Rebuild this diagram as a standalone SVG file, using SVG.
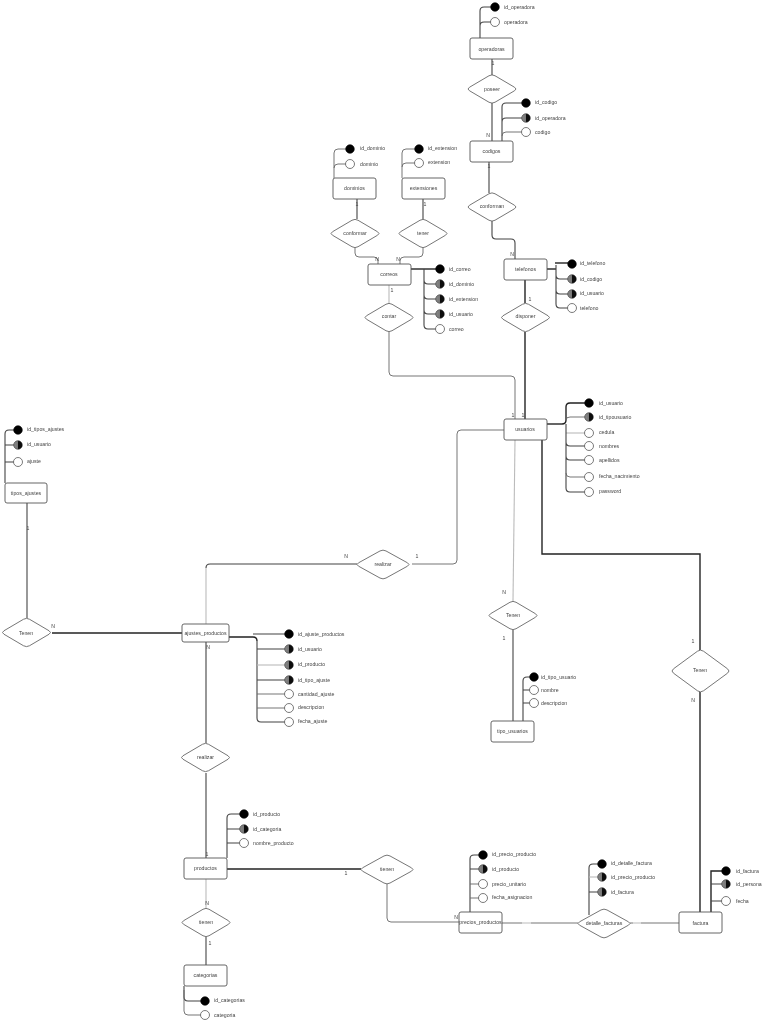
<svg xmlns="http://www.w3.org/2000/svg" width="768" height="1024" viewBox="0 0 768 1024">
<style>
text{font-family:"Liberation Sans",Arial,sans-serif;font-size:5.2px;fill:#444}
.m{text-anchor:middle}
.e{fill:#fff;stroke:#555;stroke-width:.9}
.d{fill:#fff;stroke:#666;stroke-width:.9}
.k{fill:#000;stroke:#000;stroke-width:.6}
.f{fill:url(#fk);stroke:#333;stroke-width:.6}
.o{fill:#fff;stroke:#444;stroke-width:.7}
.l{fill:none;stroke:#666;stroke-width:.9}
.s{fill:none;stroke:#222;stroke-width:1.4}
.t{fill:none;stroke:#bbb;stroke-width:1.1}
.n{fill:none;stroke:#444;stroke-width:1.1}
</style>
<defs>
<linearGradient id="fk"><stop offset="0" stop-color="#888"/><stop offset=".5" stop-color="#777"/><stop offset=".55" stop-color="#111"/><stop offset="1" stop-color="#000"/></linearGradient>
<filter id="b" x="0" y="0" width="1" height="1"><feGaussianBlur stdDeviation=".4"/></filter>
<path id="dia" d="M-22.500-1.760L-3-13.240Q0-15 3-13.240L22.500-1.760Q25.500 0 22.500 1.760L3 13.240Q0 15-3 13.240L-22.500 1.760Q-25.500 0-22.500-1.760Z"/>
<path id="diaw" d="M-24.500-1.660L-3-13.540Q0-15.200 3-13.540L24.500-1.660Q27.500 0 24.500 1.660L3 13.540Q0 15.200-3 13.540L-24.500 1.660Q-27.500 0-24.500-1.660Z"/>
<path id="diab" d="M-27-2.200L-3-19.800Q0-22 3-19.800L27-2.200Q30 0 27 2.200L3 19.800Q0 22-3 19.800L-27 2.200Q-30 0-27-2.200Z"/>
</defs>
<rect width="768" height="1024" fill="#fff"/>
<g filter="url(#b)">
<g id="connectors">
<path class="n" d="M492 59V75M492 103V141M489 162V193M492 221V235Q492 239 496 239H511Q515 239 515 243V259"/>
<path class="s" d="M525 280V303M525 332V419"/>
<path class="n" d="M357 199V219M423 199V219"/>
<path class="l" d="M355 248V253Q355 257 359 257H374Q378 257 378 261V264M423 248V253Q423 257 419 257H404Q400 257 400 261V264"/>
<path class="t" d="M389 285V303"/>
<path class="l" d="M389 332V372Q389 376 393 376H511Q515 376 515 380V419"/>
<path class="l" d="M504 430H461Q457 430 457 434V560Q457 564 453 564H412"/>
<path class="n" d="M357 564H210Q206 564 206 568"/>
<path class="t" d="M206 568V624"/>
<path class="s" d="M52 633H182"/>
<path class="n" d="M27 503V618"/>
<path class="t" d="M515 440L513 601"/>
<path class="n" d="M513 630V721"/>
<path class="s" d="M542 440V554H700V650M700 692V912"/>
<path class="n" d="M206 642V743M206 773V858"/>
<path class="t" d="M206 879V908"/>
<path class="n" d="M206 937V965"/>
<path class="s" d="M227 869H361"/>
<path class="l" d="M387 884V918Q387 922 391 922H459"/>
<path class="l" d="M502 923H522M531 923H578M630 923H633M641 923H679"/>
<path class="t" d="M522 923H531M633 923H641"/>
<path class="n" d="M480 38V11Q480 7 484 7H491M480 26Q480 22 484 22H491"/>
<path class="n" d="M502 141V107Q502 103 506 103H522M502 122Q502 118 506 118H522"/>
<path class="l" d="M502 136Q502 132 506 132H522"/>
<path class="s" d="M547 269H556"/>
<path class="s" d="M555 263H568"/>
<path class="n" d="M556 265V304Q556 308 560 308H568M556 275Q556 279 560 279H568M556 290Q556 294 560 294H568"/>
<path class="s" d="M410 269H436"/>
<path class="n" d="M424 269V325Q424 329 428 329H436M424 280Q424 284 428 284H436M424 295Q424 299 428 299H436M424 310Q424 314 428 314H436"/>
<path class="l" d="M334 178V153Q334 149 338 149H346M334 168Q334 164 338 164H346"/>
<path class="l" d="M402 178V153Q402 149 406 149H415M402 167Q402 163 406 163H415"/>
<path class="s" d="M547 424H562"/>
<path class="s" d="M562 424Q566 424 566 420V407Q566 403 570 403H585"/>
<path class="l" d="M566 420Q566 417 570 417H585"/>
<path class="t" d="M566 433H585"/>
<path class="n" d="M566 424V488Q566 492 570 492H585M566 442Q566 446 570 446H585M566 456Q566 460 570 460H585"/>
<path class="l" d="M566 473Q566 477 570 477H585"/>
<path class="n" d="M523 721V681Q523 677 527 677H530M523 690H530M523 703H530"/>
<path class="n" d="M5 483V434Q5 430 9 430H14M5 445H14M5 462H14"/>
<path class="s" d="M229 637H253Q257 637 257 641"/>
<path class="n" d="M257 641V718Q257 722 261 722H285M253 634H285M257 649H285M257 680H285"/>
<path class="t" d="M257 665H285"/>
<path class="l" d="M257 694H285M257 708H285"/>
<path class="n" d="M227 858V818Q227 814 231 814H240M227 829H240M227 843H240"/>
<path class="n" d="M184 986V997Q184 1001 188 1001H201"/>
<path class="l" d="M184 990V1011Q184 1015 188 1015H201"/>
<path class="n" d="M470 912V859Q470 855 474 855H479M470 869H479"/>
<path class="l" d="M470 884H479M470 898H479"/>
<path class="n" d="M589 915V868Q589 864 593 864H598M589 892H598"/>
<path class="t" d="M589 877H598"/>
<path class="s" d="M711 912V871H722"/>
<path class="n" d="M711 884H722M711 901H722"/>
</g>

<g id="operadoras"><rect class="e" x="470" y="38" width="43" height="21" rx="2"/><text class="m" x="491.500" y="50.800">operadoras</text>
<circle class="k" cx="495" cy="7" r="4.300"/><text x="504" y="8.500">id_operadora</text>
<circle class="o" cx="495" cy="22" r="4.500"/><text x="504" y="23.500">operadora</text></g>
<g id="poseer"><use href="#dia" class="d" x="492" y="89"/><text class="m" x="492" y="90.800">poseer</text></g>
<g id="codigos"><rect class="e" x="470" y="141" width="43" height="21" rx="2"/><text class="m" x="491.500" y="153.300">codigos</text>
<circle class="k" cx="526" cy="103" r="4.300"/><text x="535" y="104">id_codigo</text>
<circle class="f" cx="526" cy="118" r="4.300"/><text x="535" y="119.500">id_operadora</text>
<circle class="o" cx="526" cy="132" r="4.500"/><text x="535" y="134">codigo</text></g>
<g id="conforman"><use href="#dia" class="d" x="492" y="207"/><text class="m" x="492" y="207.800">conforman</text></g>
<g id="telefonos"><rect class="e" x="504" y="259" width="43" height="21" rx="2"/><text class="m" x="525.500" y="271">telefonos</text>
<circle class="k" cx="572" cy="264" r="4.300"/><text x="580" y="264.500">id_telefono</text>
<circle class="f" cx="572" cy="279" r="4.300"/><text x="580" y="280.500">id_codigo</text>
<circle class="f" cx="572" cy="294" r="4.300"/><text x="580" y="295">id_usuario</text>
<circle class="o" cx="572" cy="308" r="4.500"/><text x="580" y="309.500">telefono</text></g>
<g id="disponer"><use href="#dia" class="d" x="525.500" y="317.500"/><text class="m" x="525.500" y="317.800">disponer</text></g>
<g id="dominios"><rect class="e" x="333" y="178" width="43" height="21" rx="2"/><text class="m" x="354.500" y="189.800">dominios</text>
<circle class="k" cx="350" cy="149" r="4.300"/><text x="360" y="149.800">id_dominio</text>
<circle class="o" cx="350" cy="164" r="4.500"/><text x="360" y="165.500">dominio</text></g>
<g id="extensiones"><rect class="e" x="402" y="178" width="43" height="21" rx="2"/><text class="m" x="423.500" y="189.800">extensiones</text>
<circle class="k" cx="419" cy="149" r="4.300"/><text x="428" y="149.800">id_extension</text>
<circle class="o" cx="419" cy="163" r="4.500"/><text x="428" y="164">extension</text></g>
<g id="conformar"><use href="#dia" class="d" x="355" y="233.500"/><text class="m" x="355" y="235">conformar</text></g>
<g id="tener"><use href="#dia" class="d" x="423" y="233.500"/><text class="m" x="423" y="235">tener</text></g>
<g id="correos"><rect class="e" x="368" y="264" width="43" height="21" rx="2"/><text class="m" x="389" y="275.800">correos</text>
<circle class="k" cx="440" cy="269" r="4.300"/><text x="449" y="271">id_correo</text>
<circle class="f" cx="440" cy="284" r="4.300"/><text x="449" y="285.500">id_dominio</text>
<circle class="f" cx="440" cy="299" r="4.300"/><text x="449" y="301">id_extension</text>
<circle class="f" cx="440" cy="314" r="4.300"/><text x="449" y="315.500">id_usuario</text>
<circle class="o" cx="440" cy="329" r="4.500"/><text x="449" y="331">correo</text></g>
<g id="contar"><use href="#dia" class="d" x="389" y="317.500"/><text class="m" x="389" y="317.800">contar</text></g>
<g id="usuarios"><rect class="e" x="504" y="419" width="43" height="21" rx="2"/><text class="m" x="525" y="430.800">usuarios</text>
<circle class="k" cx="589" cy="403" r="4.300"/><text x="599" y="405">id_usuario</text>
<circle class="f" cx="589" cy="417" r="4.300"/><text x="599" y="418.500">id_tipousuario</text>
<circle class="o" cx="589" cy="433" r="4.500"/><text x="599" y="434">cedula</text>
<circle class="o" cx="589" cy="446" r="4.500"/><text x="599" y="447.800">nombres</text>
<circle class="o" cx="589" cy="460" r="4.500"/><text x="599" y="462">apellidos</text>
<circle class="o" cx="589" cy="477" r="4.500"/><text x="599" y="477.800">fecha_nacimiento</text>
<circle class="o" cx="589" cy="492" r="4.500"/><text x="599" y="493">password</text></g>
<g id="realizar_usuarios"><use href="#diaw" class="d" x="383" y="564.500"/><text class="m" x="383" y="565.800">realizar</text></g>
<g id="tenen_usuarios"><use href="#dia" class="d" x="513" y="615.500"/><text class="m" x="513" y="616.500">Tenen</text></g>
<g id="tipo_usuarios"><rect class="e" x="491" y="721" width="43" height="21" rx="2"/><text class="m" x="512.500" y="732.800">tipo_usuarios</text>
<circle class="k" cx="534" cy="677" r="4.300"/><text x="541" y="678.800">id_tipo_usuario</text>
<circle class="o" cx="534" cy="690" r="4.500"/><text x="541" y="692">nombre</text>
<circle class="o" cx="534" cy="703" r="4.500"/><text x="541" y="704.500">descripcion</text></g>
<g id="tenen_factura"><use href="#diab" class="d" x="700.500" y="671"/><text class="m" x="700" y="672">Tenen</text></g>
<g id="tipos_ajustes"><rect class="e" x="5" y="483" width="42" height="20" rx="2"/><text class="m" x="26" y="494.500">tipos_ajustes</text>
<circle class="k" cx="18" cy="430" r="4.300"/><text x="27" y="430.800">id_tipos_ajustes</text>
<circle class="f" cx="18" cy="445" r="4.300"/><text x="27" y="446">id_usuario</text>
<circle class="o" cx="18" cy="462" r="4.500"/><text x="27" y="463">ajuste</text></g>
<g id="tenen_ajustes"><use href="#dia" class="d" x="26.500" y="632.500"/><text class="m" x="26" y="634.500">Tenen</text></g>
<g id="ajustes_productos"><rect class="e" x="182" y="624" width="47" height="18" rx="2"/><text class="m" x="205.500" y="634.800">ajustes_productos</text>
<circle class="k" cx="289" cy="634" r="4.300"/><text x="298" y="636">id_ajuste_productos</text>
<circle class="f" cx="289" cy="649" r="4.300"/><text x="298" y="650.500">id_usuario</text>
<circle class="f" cx="289" cy="665" r="4.300"/><text x="298" y="666">id_producto</text>
<circle class="f" cx="289" cy="680" r="4.300"/><text x="298" y="681.500">id_tipo_ajuste</text>
<circle class="o" cx="289" cy="694" r="4.500"/><text x="298" y="695.800">cantidad_ajuste</text>
<circle class="o" cx="289" cy="708" r="4.500"/><text x="298" y="709">descripcion</text>
<circle class="o" cx="289" cy="722" r="4.500"/><text x="298" y="722.800">fecha_ajuste</text></g>
<g id="realizar_productos"><use href="#dia" class="d" x="205.500" y="757.500"/><text class="m" x="205.500" y="758.500">realizar</text></g>
<g id="productos"><rect class="e" x="184" y="858" width="43" height="21" rx="2"/><text class="m" x="205.500" y="870">productos</text>
<circle class="k" cx="244" cy="814" r="4.300"/><text x="253" y="815.800">id_producto</text>
<circle class="f" cx="244" cy="829" r="4.300"/><text x="253" y="830.500">id_categoria</text>
<circle class="o" cx="244" cy="843" r="4.500"/><text x="253" y="844.800">nombre_producto</text></g>
<g id="tienen_productos"><use href="#diaw" class="d" x="387" y="869.500"/><text class="m" x="387" y="870.500">tienen</text></g>
<g id="tienen_categorias"><use href="#dia" class="d" x="206" y="922.500"/><text class="m" x="206" y="924">tienen</text></g>
<g id="categorias"><rect class="e" x="184" y="965" width="43" height="21" rx="2"/><text class="m" x="205.500" y="976.500">categorias</text>
<circle class="k" cx="205" cy="1001" r="4.300"/><text x="214" y="1002">id_categorias</text>
<circle class="o" cx="205" cy="1015" r="4.500"/><text x="214" y="1016.500">categoria</text></g>
<g id="precios_productos"><rect class="e" x="459" y="912" width="43" height="21" rx="2"/><text class="m" x="480.500" y="924">precios_productos</text>
<circle class="k" cx="483" cy="855" r="4.300"/><text x="492" y="855.500">id_precio_producto</text>
<circle class="f" cx="483" cy="869" r="4.300"/><text x="492" y="871">id_producto</text>
<circle class="o" cx="483" cy="884" r="4.500"/><text x="492" y="885.500">precio_unitario</text>
<circle class="o" cx="483" cy="898" r="4.500"/><text x="492" y="899">fecha_asignacion</text></g>
<g id="detalle_facturas"><use href="#diaw" class="d" x="604" y="923.500"/><text class="m" x="604" y="924.500">detalle_facturas</text>
<circle class="k" cx="602" cy="864" r="4.300"/><text x="611" y="865">id_detalle_factura</text>
<circle class="f" cx="602" cy="877" r="4.300"/><text x="611" y="878.800">id_precio_producto</text>
<circle class="f" cx="602" cy="892" r="4.300"/><text x="611" y="893.800">id_factura</text></g>
<g id="factura"><rect class="e" x="679" y="912" width="43" height="21" rx="2"/><text class="m" x="700.500" y="924.500">factura</text>
<circle class="k" cx="726" cy="871" r="4.300"/><text x="736" y="872.500">id_factura</text>
<circle class="f" cx="726" cy="884" r="4.300"/><text x="736" y="885.800">id_persona</text>
<circle class="o" cx="726" cy="901" r="4.500"/><text x="736" y="902.500">fecha</text></g>

<g id="cardinalities">
<text class="m" x="493" y="65">1</text><text class="m" x="488" y="137">N</text><text class="m" x="489" y="168">1</text><text class="m" x="512" y="256">N</text><text class="m" x="530" y="301">1</text>
<text class="m" x="357" y="206">1</text><text class="m" x="425" y="206">1</text><text class="m" x="377" y="261">N</text><text class="m" x="398" y="261">N</text><text class="m" x="392" y="292">1</text>
<text class="m" x="513" y="417">1</text><text class="m" x="523" y="417">1</text><text class="m" x="346" y="558">N</text><text class="m" x="417" y="558">1</text><text class="m" x="504" y="594">N</text><text class="m" x="504" y="640">1</text>
<text class="m" x="28" y="530">1</text><text class="m" x="53" y="628">N</text><text class="m" x="208" y="649">N</text><text class="m" x="693" y="643">1</text><text class="m" x="693" y="702">N</text>
<text class="m" x="207" y="856">1</text><text class="m" x="207" y="905">N</text><text class="m" x="210" y="945">1</text><text class="m" x="346" y="875">1</text><text class="m" x="456" y="919">N</text>
</g>
</g>
</svg>
